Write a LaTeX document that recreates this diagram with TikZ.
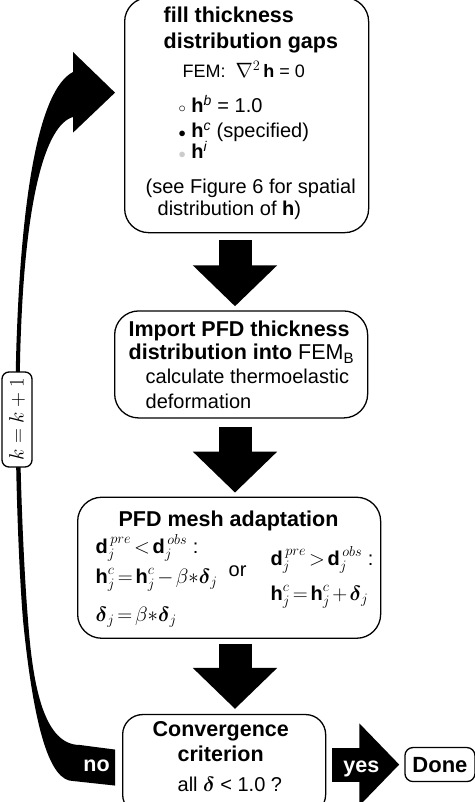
\documentclass[tikz,border=0pt]{standalone}
\usepackage{fontspec}
\setmainfont{Liberation Sans}
\usepackage{amsmath}
\usetikzlibrary{arrows.meta, positioning, calc}
% one line of a box: gap to the baseline above, indent, text
\newcommand{\bline}[3]{\kern#1pt\hbox to 0pt{\hspace*{#2pt}\smash{#3}\hss}}
\newcommand{\nline}[3]{\bline{#1}{#2}{\fontsize{20}{20}\selectfont\mdseries #3}}
\newcommand{\mline}[3]{\nline{#1}{#2}{\thickmuskip=2.5mu\relax\medmuskip=2mu\relax #3}}

\begin{document}
\begin{tikzpicture}[x=1pt, y=1pt,
  box/.style={draw, line width=1.3pt, rounded corners=24pt, inner sep=0pt,
    font=\fontsize{21.5}{26}\selectfont\bfseries},
  blockarrow/.style={line width=33pt, -{Triangle[width=82pt, length=41pt]},
    shorten <=7pt, shorten >=4pt},
  yesarrow/.style={line width=34pt, -{Triangle[width=80pt, length=40pt]},
    shorten <=6pt, shorten >=5pt},
  whitetext/.style={text=white, font=\fontsize{21.5}{26}\selectfont\bfseries},
  doneb/.style={draw, line width=1.3pt, rounded corners=8pt, inner sep=0pt,
    minimum width=70pt, minimum height=34pt, font=\fontsize{22}{26}\selectfont\bfseries},
  kbox/.style={draw, fill=white, line width=1.3pt, rounded corners=7pt, rotate=90,
    inner sep=0pt, minimum width=95pt, minimum height=30pt, font=\fontsize{20}{24}\selectfont}]
\useasboundingbox (0,0) rectangle (474,-802);

% define the boxes of the loop
  \node[box, anchor=north west] (fill) at (124,3)
{\vbox{\offinterlineskip\hbox to 244pt{}%
\bline{25}{39}{fill thickness}%
\bline{26}{39}{distribution gaps}%
\bline{29}{58}{\fontsize{18}{20}\selectfont\mdseries FEM:\ \ {\fontsize{22}{22}\selectfont$\nabla^2$}\,\textbf{h} = 0}%
\nline{35}{54}{$\scriptstyle\circ$ \textbf{h}\textsuperscript{\itshape b} = 1.0}%
\nline{25}{54}{$\scriptstyle\bullet$ \textbf{h}\textsuperscript{\itshape c} (specified)}%
\nline{21}{54}{{\color{gray!40}$\scriptstyle\bullet$} \textbf{h}\textsuperscript{\itshape i}}%
\nline{35}{21}{(see Figure 6 for spatial}%
\nline{22}{33}{distribution of \textbf{h})}%
\kern17pt}};
  \node[box, below=77pt of fill, xshift=-5.5pt] (import)
{\vbox{\offinterlineskip\hbox to 253pt{}%
\bline{26}{14}{Import PFD thickness}%
\bline{23}{14}{distribution into \mdseries FEM\textsubscript{B}}%
\nline{24}{31}{calculate thermoelastic}%
\nline{25}{31}{deformation}%
\kern9pt}};
  \node[box, below=78pt of import, xshift=-12pt] (adapt)
{\vbox{\offinterlineskip\hbox to 303pt{}%
\bline{29}{41}{PFD mesh adaptation}%
\mline{27}{18}{$\textbf{d}_j^{\,pre} < \textbf{d}_j^{\,obs}$\ :}%
\mline{12}{193}{$\textbf{d}_j^{\,pre} > \textbf{d}_j^{\,obs}$\ :}%
\nline{11}{151}{or}%
\mline{7}{18}{$\textbf{h}_j^c = \textbf{h}_j^c - \beta{\ast}\boldsymbol{\delta}_j$}%
\mline{17}{193}{$\textbf{h}_j^c = \textbf{h}_j^c + \boldsymbol{\delta}_j$}%
\mline{21}{18}{$\boldsymbol{\delta}_j = \beta{\ast}\boldsymbol{\delta}_j$}%
\kern17pt}};
  \node[box, rounded corners=20pt, below=75pt of adapt, xshift=-5pt] (conv)
{\vbox{\offinterlineskip\hbox to 203pt{}%
\bline{22}{30}{Convergence}%
\bline{25}{55}{criterion}%
\nline{30}{55}{all $\boldsymbol{\delta}$ < 1.0 ?}%
\kern23pt}};
  \node[doneb, right=78pt of conv] (done) {Done};

% define the links
  \coordinate (axis) at (235,0);
  \draw[blockarrow] (fill.south -| axis) -- (import.north -| axis);
  \draw[blockarrow, shorten <=8pt] (import.south -| axis) -- (adapt.north -| axis);
  \draw[blockarrow, shorten <=5pt, shorten >=5pt] (adapt.south -| axis) -- (conv.north -| axis);
  \draw[yesarrow] (conv.east) -- node[pos=0.45, anchor=base, yshift=-8pt, whitetext] (yes) {yes} (done.west);

  \coordinate (tailend) at ($(conv.west)+(-7,0)$);
  \coordinate (looptip) at ($(fill.west)+(-9,22.5)$);
  \fill (looptip) -- ++(-42,-40) -- (73,-117)
    .. controls (45,-125) and (26,-200) .. (21,-330)
    .. controls (17,-420) and (23,-560) .. (28,-620)
    .. controls (33,-690) and (45,-745) .. (80,-745)
    -- ($(tailend)+(0,15)$) -- ($(tailend)+(0,-21)$) -- (73,-781)
    .. controls (50,-781) and (34,-730) .. (23,-620)
    .. controls (18,-560) and (13,-420) .. (17,-330)
    .. controls (22,-200) and (38,-90) .. (73,-72)
    -- (73,-52) -- cycle;
  \node[whitetext, anchor=base] (no) at ($(tailend)+(-18.5,-7)$) {no};
  \node[kbox] (kstep) at (17,-419.5) {$k = k + 1$};

\end{tikzpicture}
\end{document}
